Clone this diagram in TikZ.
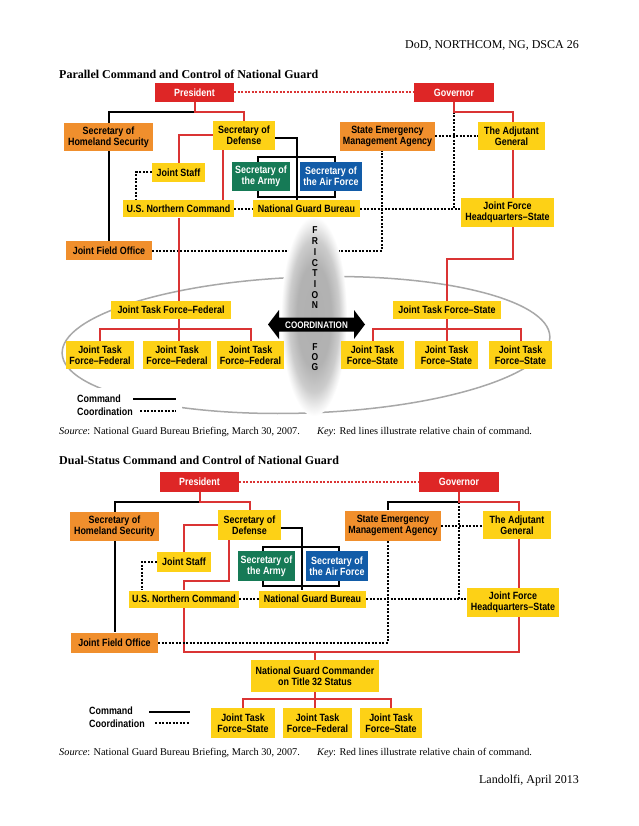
\documentclass[tikz,border=0pt]{standalone}
\usepackage{fontspec}
\setmainfont{Liberation Serif}
\newfontfamily\boxfont[FakeStretch=0.85]{Liberation Sans}
\usetikzlibrary{calc}
\definecolor{boxred}{RGB}{222,38,38}
\definecolor{boxorange}{RGB}{240,143,45}
\definecolor{boxyellow}{RGB}{253,209,22}
\definecolor{boxgreen}{RGB}{22,122,86}
\definecolor{boxblue}{RGB}{18,92,168}
\definecolor{linered}{RGB}{218,52,52}
\definecolor{ellgray}{RGB}{168,168,168}
\pgfdeclareradialshading{fogshade}{\pgfpoint{0bp}{0bp}}{color(0bp)=(gray!62); color(13bp)=(gray!60); color(19bp)=(gray!40); color(23bp)=(gray!12); color(25bp)=(white); color(50bp)=(white)}
\pgfdeclarelayer{bg}
\pgfdeclarelayer{lines}
\pgfdeclarelayer{fogl}
\pgfsetlayers{bg,lines,fogl,main}
\tikzset{
  bx/.style={draw=none, inner sep=0pt, align=center, text=black,
    font=\boxfont\bfseries\fontsize{10.5}{10.7}\selectfont},
  boxY/.style={bx, fill=boxyellow},
  boxO/.style={bx, fill=boxorange},
  boxR/.style={bx, fill=boxred, text=white},
  boxG/.style={bx, fill=boxgreen, text=white},
  boxB/.style={bx, fill=boxblue, text=white},
  cmd/.style={line width=2pt, black},
  redl/.style={line width=2pt, linered},
  crd/.style={line width=2pt, black, dash pattern=on 2pt off 1.5pt},
  redcrd/.style={line width=2pt, linered, dash pattern=on 2pt off 1.5pt},
  serif/.style={font=\fontsize{10.3}{12}\selectfont},
  legtxt/.style={anchor=west, inner sep=0pt, font=\boxfont\bfseries\fontsize{10.5}{10.7}\selectfont},
  vlet/.style={align=center, inner sep=0pt, font=\boxfont\bfseries\fontsize{10}{10.7}\selectfont},
}
\begin{document}
\begin{tikzpicture}[x=1pt,y=-1pt]
\useasboundingbox (0,0) rectangle (638,826);
\begin{pgfonlayer}{bg}
\fill[white] (0,0) rectangle (638,826);
\draw[ellgray, line width=1.5pt, rotate around={2:(306,345)}] (306,345) ellipse [x radius=244pt, y radius=68pt];
\end{pgfonlayer}

% header / footer
\node[anchor=east, inner sep=0pt, font=\fontsize{12}{14}\selectfont] (hdr) at (579,45) {DoD, NORTHCOM, NG, DSCA 26};
\node[anchor=east, inner sep=0pt, font=\fontsize{12}{14}\selectfont] (ftr) at (579,781) {Landolfi, April 2013};

% ================= TOP DIAGRAM =================
\node[anchor=west, inner sep=0pt, font=\bfseries\fontsize{12}{14}\selectfont] (t1) at (59,74) {Parallel Command and Control of National Guard};

\node[boxR, minimum width=79pt, minimum height=19pt] (pres1) at (194.5,92.5) {President};
\node[boxR, minimum width=80pt, minimum height=19pt] (gov1) at (454,92.5) {Governor};
\node[boxO, minimum width=89pt, minimum height=28pt] (shs1) at (108.5,137) {Secretary of\\Homeland Security};
\node[boxY, minimum width=62pt, minimum height=29pt] (sod1) at (244,135.5) {Secretary of\\Defense};
\node[boxY, minimum width=53pt, minimum height=19pt] (js1) at (178.5,172.5) {Joint Staff};
\node[boxG, minimum width=58pt, minimum height=29pt] (army1) at (261,176.5) {Secretary of\\the Army};
\node[boxB, minimum width=62pt, minimum height=29pt] (af1) at (331,176.5) {Secretary of\\the Air Force};
\node[boxY, minimum width=111pt, minimum height=17pt] (nc1) at (178.5,209) {U.S. Northern Command};
\node[boxY, minimum width=107pt, minimum height=17pt] (ngb1) at (306.5,209) {National Guard Bureau};
\node[boxO, minimum width=95pt, minimum height=29pt] (sema1) at (387.5,136.5) {State Emergency\\Management Agency};
\node[boxY, minimum width=67pt, minimum height=28pt] (tag1) at (511.5,136) {The Adjutant\\General};
\node[boxY, minimum width=93pt, minimum height=29pt] (jfhq1) at (507.5,212.5) {Joint Force\\Headquarters–State};
\node[boxO, minimum width=86pt, minimum height=19pt] (jfo1) at (109,250.5) {Joint Field Office};
\node[boxY, minimum width=120pt, minimum height=18pt] (jtff) at (171,310) {Joint Task Force–Federal};
\node[boxY, minimum width=68pt, minimum height=28pt] (jtff1) at (100,355) {Joint Task\\Force–Federal};
\node[boxY, minimum width=68pt, minimum height=28pt] (jtff2) at (177,355) {Joint Task\\Force–Federal};
\node[boxY, minimum width=67pt, minimum height=28pt] (jtff3) at (250.5,355) {Joint Task\\Force–Federal};
\node[boxY, minimum width=108pt, minimum height=18pt] (jtfs) at (447,310) {Joint Task Force–State};
\node[boxY, minimum width=63pt, minimum height=28pt] (jtfs1) at (372.5,355) {Joint Task\\Force–State};
\node[boxY, minimum width=63pt, minimum height=28pt] (jtfs2) at (446.5,355) {Joint Task\\Force–State};
\node[boxY, minimum width=63pt, minimum height=28pt] (jtfs3) at (520.5,355) {Joint Task\\Force–State};

\begin{pgfonlayer}{lines}
\coordinate (pj1) at (pres1.south |- 0,112);
\draw[cmd] (pj1) -| (shs1.north);
\draw[redl] (pres1.south) -- (pj1) -| (sod1.north);
\draw[cmd] (shs1.south) -- (shs1.south |- jfo1.north);
\draw[redl] (sod1.west) -| (js1.north);
\draw[redl] ([xshift=-21pt]sod1.south) -- ([xshift=-21pt]nc1.north -| sod1.south);
\draw[cmd] ([xshift=-3pt,yshift=5pt]army1.north) rectangle ([xshift=4pt,yshift=-6pt]af1.south);
\draw[cmd] ([yshift=-2.5pt]sod1.east) -| ([xshift=-9.5pt]ngb1.north);
\draw[crd] (js1.west) -| ([xshift=-42.5pt]nc1.north);
\draw[crd] (nc1.east) -- (ngb1.west);
\draw[crd] (ngb1.east) -- (ngb1.east -| jfhq1.west);
\draw[crd] (sema1.east) -- (sema1.east -| tag1.west);
\draw[redcrd] (pres1.east) -- (gov1.west);
\coordinate (gj1) at (gov1.south |- 0,112);
\draw[crd] (gj1) -- (gj1 |- ngb1.east);
\draw[redl] (gov1.south) -- (gj1) -| ([xshift=1.5pt]tag1.north);
\coordinate (tx1) at ([xshift=1.5pt]tag1.south);
\draw[redl] (tx1) -- (tx1 |- jfhq1.north);
\coordinate (sj1) at (tx1 |- 0,259);
\draw[redl] (tx1 |- jfhq1.south) -- (sj1) -| (jtfs.north);
\draw[crd] (jfo1.east) -| ([xshift=-5.5pt]sema1.south);
\draw[redl] (nc1.south) -- (nc1.south |- jtff.north);
\coordinate (fb) at (nc1.south |- 0,329);
\draw[redl] (fb |- jtff.south) -- (fb);
\draw[redl] (jtff1.north) |- (fb) -| (jtff3.north);
\draw[redl] (fb) -- (fb |- jtff2.north);
\coordinate (sb) at (jtfs.south |- 0,329);
\draw[redl] (jtfs.south) -- (sb);
\draw[redl] (jtfs1.north) |- (sb) -| (jtfs3.north);
\draw[redl] (sb) -- (sb |- jtfs2.north);
\end{pgfonlayer}

\begin{pgfonlayer}{fogl}
\shade[shading=fogshade] (314,316) ellipse [x radius=33pt, y radius=100pt];
\end{pgfonlayer}

\fill[black] (268,324.5) -- (279,310) -- (279,317.5) -- (354,317.5) -- (354,310) -- (365,324.5) -- (354,339) -- (354,331.5) -- (279,331.5) -- (279,339) -- cycle;
\node[inner sep=0pt, text=white, font=\boxfont\bfseries\fontsize{9.5}{10}\selectfont] (coordtxt) at (316.5,325) {COORDINATION};
\node[vlet] (fric) at (315,268) {F\\R\\I\\C\\T\\I\\O\\N};
\node[vlet, font=\boxfont\bfseries\fontsize{10}{10}\selectfont] (fog) at (315,357) {F\\O\\G};

% legend
\fill[white] (72,388) rectangle (182,420);
\node[legtxt] (lc1) at (77,399) {Command};
\node[legtxt] (lo1) at (77,412) {Coordination};
\coordinate (lc1a) at (133,399);
\coordinate (lc1b) at (176,399);
\coordinate (lo1a) at (140,411);
\coordinate (lo1b) at (176,411);
\draw[cmd] (lc1a) -- (lc1b);
\draw[crd] (lo1a) -- (lo1b);

\node[anchor=west, inner sep=0pt, serif] (src1) at (59,432) {\textit{Source}: National Guard Bureau Briefing, March 30, 2007.};
\node[anchor=west, inner sep=0pt, serif] (key1) at (317,432) {\textit{Key}: Red lines illustrate relative chain of command.};

% ================= BOTTOM DIAGRAM =================
\node[anchor=west, inner sep=0pt, font=\bfseries\fontsize{12}{14}\selectfont] (t2) at (59,460) {Dual-Status Command and Control of National Guard};

\node[boxR, minimum width=79pt, minimum height=20pt] (pres2) at (199.5,482) {President};
\node[boxR, minimum width=80pt, minimum height=20pt] (gov2) at (459,482) {Governor};
\node[boxO, minimum width=89pt, minimum height=29pt] (shs2) at (114.5,526.5) {Secretary of\\Homeland Security};
\node[boxY, minimum width=63pt, minimum height=30pt] (sod2) at (249.5,525) {Secretary of\\Defense};
\node[boxY, minimum width=54pt, minimum height=20pt] (js2) at (184,562) {Joint Staff};
\node[boxG, minimum width=57pt, minimum height=30pt] (army2) at (266.5,566) {Secretary of\\the Army};
\node[boxB, minimum width=62pt, minimum height=30pt] (af2) at (337,566) {Secretary of\\the Air Force};
\node[boxY, minimum width=110pt, minimum height=17pt] (nc2) at (184,599) {U.S. Northern Command};
\node[boxY, minimum width=107pt, minimum height=17pt] (ngb2) at (312.5,599) {National Guard Bureau};
\node[boxO, minimum width=96pt, minimum height=30pt] (sema2) at (393,525.5) {State Emergency\\Management Agency};
\node[boxY, minimum width=68pt, minimum height=28pt] (tag2) at (517,525) {The Adjutant\\General};
\node[boxY, minimum width=92pt, minimum height=29pt] (jfhq2) at (513,602.5) {Joint Force\\Headquarters–State};
\node[boxO, minimum width=87pt, minimum height=20pt] (jfo2) at (114.5,642.5) {Joint Field Office};
\node[boxY, minimum width=128pt, minimum height=32pt] (ngc) at (315,676) {National Guard Commander\\on Title 32 Status};
\node[boxY, minimum width=64pt, minimum height=30pt] (b1) at (243,723) {Joint Task\\Force–State};
\node[boxY, minimum width=69pt, minimum height=30pt] (b2) at (317.5,723) {Joint Task\\Force–Federal};
\node[boxY, minimum width=62pt, minimum height=30pt] (b3) at (391,723) {Joint Task\\Force–State};

\begin{pgfonlayer}{lines}
\coordinate (pj2) at (pres2.south |- 0,502);
\draw[cmd] (pj2) -| (shs2.north);
\draw[redl] (pres2.south) -- (pj2) -| (sod2.north);
\draw[cmd] (shs2.south) -- (shs2.south |- jfo2.north);
\draw[redl] (sod2.west) -| (js2.north);
\draw[redl] ([xshift=-20.5pt]sod2.south) |- ([yshift=9pt]nc2.north) -- (nc2.north);
\draw[cmd] ([xshift=-3.5pt,yshift=4pt]army2.north) rectangle ([xshift=2pt,yshift=-5pt]af2.south);
\draw[cmd] ([yshift=-3pt]sod2.east) -| ([xshift=-10.5pt]ngb2.north);
\draw[crd] (js2.west) -| ([xshift=-42pt]nc2.north);
\draw[crd] (nc2.east) -- (ngb2.west);
\draw[crd] (ngb2.east) -- (ngb2.east -| jfhq2.west);
\draw[crd] (sema2.east) -- (sema2.east -| tag2.west);
\draw[redcrd] (pres2.east) -- (gov2.west);
\coordinate (gj2) at (gov2.south |- 0,502);
\draw[crd] (gj2) -- (gj2 |- ngb2.east);
\draw[cmd] (gj2) -| ([xshift=-5pt]sema2.north);
\draw[redl] (gov2.south) -- (gj2) -| ([xshift=2pt]tag2.north);
\coordinate (tx2) at ([xshift=2pt]tag2.south);
\draw[redl] (tx2) -- (tx2 |- jfhq2.north);
\coordinate (rbc) at (nc2.south |- 0,652);
\draw[redl] (nc2.south) -- (rbc) -| (tx2 |- jfhq2.south);
\draw[redl] (ngc.north |- rbc) -- (ngc.north);
\draw[crd] (jfo2.east) -| ([xshift=-5pt]sema2.south);
\coordinate (nb) at (ngc.south |- 0,699);
\draw[redl] (ngc.south) -- (nb);
\draw[redl] (b1.north) |- (nb) -| (b3.north);
\draw[redl] (nb) -- (nb |- b2.north);
\end{pgfonlayer}

% legend 2
\node[legtxt] (lc2) at (89,711) {Command};
\node[legtxt] (lo2) at (89,724) {Coordination};
\coordinate (lc2a) at (149,712);
\coordinate (lc2b) at (190,712);
\coordinate (lo2a) at (155,723);
\coordinate (lo2b) at (190,723);
\draw[cmd] (lc2a) -- (lc2b);
\draw[crd] (lo2a) -- (lo2b);

\node[anchor=west, inner sep=0pt, serif] (src2) at (59,753) {\textit{Source}: National Guard Bureau Briefing, March 30, 2007.};
\node[anchor=west, inner sep=0pt, serif] (key2) at (317,753) {\textit{Key}: Red lines illustrate relative chain of command.};
\end{tikzpicture}
\end{document}
